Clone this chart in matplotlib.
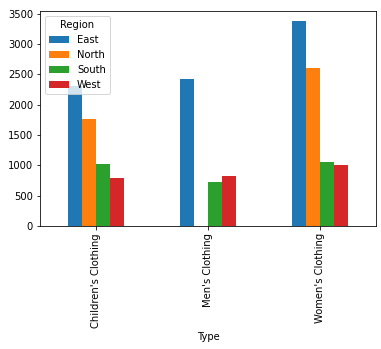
import numpy as np
import matplotlib
matplotlib.use("Agg")
import matplotlib.pyplot as plt

types = ["Children's Clothing", "Men's Clothing", "Women's Clothing"]
regions = ["East", "North", "South", "West"]
east = [2300, 2425, 3370]
north = [1758, 0, 2610]
south = [1025, 733, 1058]
west = [798, 830, 1010]

colors = ['#1f77b4', '#ff7f0e', '#2ca02c', '#d62728']

fig = plt.figure(figsize=(381 / 72, 349 / 72), dpi=72)
ax = fig.add_axes([0.105, 0.352, 0.882, 0.616])

x = np.arange(len(types))
w = 0.125
for i, (name, vals) in enumerate(zip(regions, [east, north, south, west])):
    ax.bar(x + (i - 1.5) * w, vals, width=w, color=colors[i], label=name)

ax.set_xlim(-0.5, 2.5)
ax.set_xticks(x)
ax.set_xticklabels(types, rotation=90)
ax.set_xlabel('Type')
ax.legend(title='Region', loc='upper left')

fig.savefig('out.png', dpi=72, facecolor='white')
